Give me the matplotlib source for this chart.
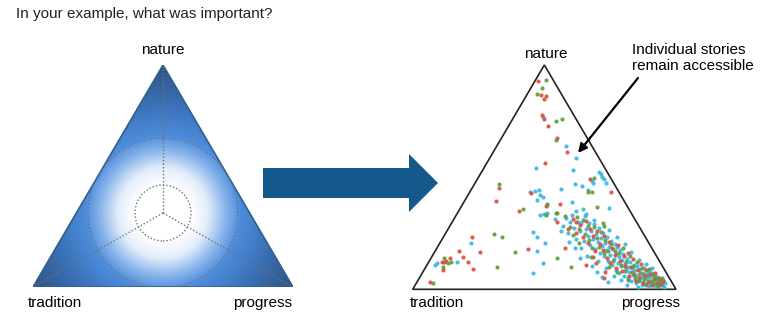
import numpy as np
import matplotlib
matplotlib.use('Agg')
import matplotlib.pyplot as plt
from matplotlib.patches import Polygon, Ellipse, FancyArrow
from matplotlib.colors import LinearSegmentedColormap

plt.rcParams['font.family'] = ['Liberation Sans', 'DejaVu Sans']

# triangle corner labels
corners = ['nature', 'tradition', 'progress']
title = 'In your example, what was important?'
note = 'Individual stories\nremain accessible'

# answers, position inside the triangle (x along base 0-100, y toward "nature" 0-100)
red_x = [47.7, 48.7, 50.5, 49.9, 49.2, 49.9, 51.5, 54.7, 58.5, 50.3, 67.3, 75.2, 32.7, 31.6,
         50.5, 55.9, 40.5, 54.9, 43.9, 22.4, 25.6, 21.1, 19.2, 17.7, 22.8, 11.0, 12.0, 12.5,
         14.2, 11.4, 6.6, 44.8, 62.0, 57.8, 65.7, 72.7, 68.4,
         58.8, 60.9, 62.1, 63.6, 64.5, 65.9, 66.7, 67.3, 68.6, 69.4, 70.1, 71.2, 72.1, 72.8,
         73.7, 74.4, 75.1, 75.8, 76.7, 77.3, 78.1, 78.7, 79.5, 80.1, 80.8, 81.7, 82.1, 82.9,
         83.5, 84.1, 84.7, 85.5, 86.1, 86.8, 87.5, 88.0, 88.7, 89.5, 90.1, 90.8, 91.5, 92.2,
         92.8, 93.5, 94.4, 95.1, 73.2, 69.8]
red_y = [93.0, 86.6, 86.2, 84.8, 77.6, 75.8, 72.8, 67.6, 61.4, 56.5, 49.2, 43.2, 45.3, 39.5,
         37.1, 38.0, 35.1, 30.2, 18.0, 23.5, 16.8, 12.0, 14.6, 17.2, 9.1, 12.0, 12.0, 12.8,
         13.8, 8.6, 3.4, 43.1, 30.0, 18.4, 10.8, 4.9, 14.6,
         27.0, 31.3, 25.0, 28.7, 23.4, 30.4, 20.6, 26.8, 23.7, 16.9, 25.9, 20.2, 17.3, 23.6,
         14.1, 21.2, 11.8, 18.6, 15.2, 9.7, 19.9, 12.8, 8.2, 14.7, 10.6, 16.4, 5.8, 9.9,
         13.7, 6.9, 3.5, 8.8, 5.0, 11.2, 2.6, 6.4, 8.6, 3.4, 6.7, 1.9, 4.5, 7.3,
         2.9, 5.1, 2.3, 3.7, 7.6, 11.8]

green_x = [50.5, 49.0, 47.3, 54.3, 56.7, 54.3, 69.0, 66.7, 68.2, 32.9, 42.0, 50.9, 54.3, 31.0,
           33.8, 38.9, 31.9, 12.0, 14.6, 11.6, 7.8, 13.5, 54.7, 60.0, 70.0, 72.3, 50.6, 54.8,
           58.0, 59.6, 60.7, 62.4, 63.1, 64.7, 65.4, 66.6, 67.1, 68.1, 68.9, 69.9, 70.9, 71.7,
           72.5, 73.2, 74.0, 74.6, 75.4, 76.1, 76.9, 77.7, 78.4, 79.0, 79.8, 80.5, 81.1, 81.9,
           82.5, 83.2, 83.8, 84.5, 85.1, 85.8, 86.4, 87.1, 87.8, 88.5, 89.1, 89.8, 90.5, 91.2,
           91.8, 92.5, 93.2, 93.9, 94.7, 67.8, 63.0, 72.6]
green_y = [93.3, 89.6, 86.9, 75.0, 76.1, 66.6, 49.8, 43.5, 43.2, 47.0, 35.7, 38.0, 34.2, 24.7,
           23.5, 16.8, 9.8, 14.1, 12.3, 9.8, 3.0, 11.6, 13.8, 9.8, 36.7, 29.6, 33.1, 34.0,
           32.7, 27.9, 24.1, 32.1, 27.1, 30.9, 24.7, 28.4, 22.0, 18.4, 27.9, 22.7, 18.7, 25.5,
           16.0, 21.9, 16.9, 10.0, 20.3, 12.6, 17.0, 7.9, 16.2, 11.0, 18.2, 8.3, 12.3, 4.3,
           14.9, 7.8, 10.6, 5.6, 12.3, 4.1, 7.3, 9.4, 4.8, 1.8, 5.9, 9.1, 3.9, 6.4,
           2.6, 4.9, 1.5, 3.7, 5.0, 14.2, 20.5, 28.2]

cyan_x = [49.6, 58.1, 61.9, 46.7, 61.0, 70.9, 71.5, 72.0, 72.7, 73.4, 68.2, 64.4, 61.6, 66.5,
          44.6, 46.3, 48.0, 48.5, 49.4, 47.3, 50.9, 60.4, 48.4, 49.9, 50.9, 45.8, 47.3, 50.3,
          47.1, 49.6, 45.8, 22.0, 16.7, 8.5, 9.4, 68.6, 56.3, 74.6, 54.1, 74.1,
          57.2, 58.3, 59.1, 59.8, 60.4, 61.3, 61.9, 62.7, 62.2, 63.4, 64.1, 64.9, 65.3, 65.8,
          63.8, 66.4, 66.9, 67.5, 67.9, 68.4, 68.8, 66.2, 69.3, 69.7, 70.2, 70.6, 71.1, 71.5,
          71.9, 70.4, 72.3, 72.6, 73.0, 73.4, 73.9, 74.2, 74.7, 74.9, 73.6, 75.3, 75.6, 76.0,
          76.3, 76.8, 77.1, 77.4, 77.9, 77.6, 76.5, 78.2, 78.5, 78.9, 79.3, 79.6, 80.0, 80.3,
          80.7, 80.9, 79.1, 81.3, 81.6, 81.9, 82.3, 82.7, 83.0, 83.3, 83.7, 83.9, 84.3, 84.6,
          84.9, 85.3, 85.6, 85.9, 86.3, 86.6, 86.9, 87.3, 87.6, 87.9, 88.3, 88.6, 88.9, 89.3,
          89.6, 89.9, 90.3, 90.6, 90.9, 91.3, 91.6, 91.9, 92.3, 92.6, 92.9, 93.3, 93.6, 94.0,
          94.4, 94.8, 95.2, 95.6, 96.0,
          56.5, 59.5, 61.5, 63.5, 64.5, 68.0, 70.0, 72.0, 74.5, 77.5, 80.5, 83.0, 86.0, 88.5,
          91.0, 66.0, 81.5, 85.5, 69.0]
cyan_y = [76.7, 63.7, 58.7, 53.9, 53.2, 52.2, 51.3, 50.2, 49.2, 47.5, 48.4, 46.1, 47.0, 44.3,
          43.2, 44.0, 44.3, 42.2, 41.0, 39.8, 37.4, 39.1, 33.1, 33.4, 34.2, 25.7, 23.2, 20.5,
          17.2, 11.6, 7.1, 20.5, 12.3, 10.7, 11.6, 47.2, 44.7, 36.3, 31.4, 3.3,
          28.4, 31.6, 25.2, 29.9, 33.1, 27.3, 22.6, 30.2, 35.0, 25.8, 29.4, 21.7, 32.6, 26.9,
          18.3, 23.9, 29.7, 19.8, 26.1, 22.4, 31.0, 14.9, 18.1, 24.8, 21.3, 27.5, 16.2, 22.9,
          19.4, 12.8, 25.2, 14.7, 20.8, 17.6, 23.1, 12.4, 19.0, 15.3, 9.6, 21.6, 10.9, 17.9,
          13.7, 20.1, 8.8, 15.9, 11.6, 18.7, 5.9, 14.2, 7.4, 17.3, 10.2, 12.9, 15.8, 6.1,
          11.4, 8.9, 4.0, 13.6, 5.2, 10.1, 7.6, 12.2, 3.9, 9.3, 6.4, 11.0, 4.6, 8.4,
          2.9, 10.3, 6.2, 3.7, 8.9, 5.5, 1.9, 7.3, 3.3, 9.6, 5.1, 2.4, 6.9, 4.2,
          8.0, 1.6, 5.6, 3.0, 7.2, 2.1, 4.7, 6.0, 1.4, 3.6, 5.4, 2.5, 4.1, 1.7,
          3.2, 2.0, 4.3, 1.2, 2.6,
          26.0, 21.0, 18.5, 14.0, 36.0, 10.5, 7.5, 5.5, 26.5, 23.5, 20.0, 16.5, 13.0, 11.5,
          9.5, 33.5, 2.0, 1.0, 29.0]

W, H = 768, 320
fig = plt.figure(figsize=(W / 100, H / 100), dpi=100)


def px(x, y):
    return x / W, 1 - y / H


tri = np.array([[0, 0], [100, 0], [50, 100]])

# ---- big arrow in the middle
bg = fig.add_axes((0, 0, 1, 1))
bg.set_xlim(0, W)
bg.set_ylim(H, 0)
bg.axis('off')
bg.add_patch(FancyArrow(263, 183, 175, 0, width=30, head_width=58, head_length=29,
                        length_includes_head=True, color='#13598c', lw=0))

# ---- left triangle: schematic with gradient
ax1 = fig.add_axes((33 / W, 1 - 287 / H, 260 / W, 222 / H))
ax1.set_xlim(0, 100)
ax1.set_ylim(0, 100)
ax1.axis('off')
sx, sy = 2.6, 2.22          # pixels per data unit
cx, cy = 50, 100 / 3
gx, gy = np.meshgrid(np.linspace(0, 100, 400), np.linspace(0, 100, 400))
dist = np.hypot((gx - cx) * sx, (gy - cy) * sy)
cmap = LinearSegmentedColormap.from_list('blu', [
    (0.0, '#ffffff'), (0.19, '#ffffff'), (0.3, '#e2edfa'), (0.42, '#88b4eb'),
    (0.52, '#4d8cdb'), (0.72, '#3b72b8'), (1.0, '#2f5282')])
im = ax1.imshow(dist / 150, cmap=cmap, vmin=0, vmax=1, extent=(0, 100, 0, 100),
                origin='lower', aspect='auto', interpolation='bilinear')
tp = Polygon(tri, closed=True, fc='none', ec='#2f5f90', lw=1.2, transform=ax1.transData)
ax1.add_patch(tp)
im.set_clip_path(tp)
dot = (0, (1, 1.5))
for r in (28, 75):
    c = Ellipse((cx, cy), 2 * r / sx, 2 * r / sy, fc='none', ec='#6c727c', ls=dot, lw=1)
    ax1.add_patch(c)
    c.set_clip_path(tp)
for vx, vy in tri:
    ax1.plot([cx, vx], [cy, vy], color='#6c727c', ls=dot, lw=1)

# ---- right triangle: the answers
ax2 = fig.add_axes((412.7 / W, 1 - 289.3 / H, 263.3 / W, 224.3 / H))
ax2.set_xlim(0, 100)
ax2.set_ylim(0, 100)
ax2.axis('off')
ax2.add_patch(Polygon(tri, closed=True, fc='none', ec='#222222', lw=1.2, clip_on=False))
ax2.scatter(cyan_x, cyan_y, s=9, c='#3ab4e8', lw=0, alpha=0.9, clip_on=False)
ax2.scatter(red_x, red_y, s=9, c='#e2483c', lw=0, alpha=0.9, clip_on=False)
ax2.scatter(green_x, green_y, s=9, c='#5c9e34', lw=0, alpha=0.9, clip_on=False)
ax2.annotate('', xy=(62.8, 60.8), xycoords='data', xytext=(638, H - 78),
             textcoords='figure pixels',
             arrowprops=dict(arrowstyle='-|>', color='black', lw=1.6,
                             mutation_scale=13, shrinkA=0, shrinkB=0))

# ---- texts
fs = 11
fig.text(*px(16, 14), title, fontsize=fs, ha='left', va='center', color='#222222')
fig.text(*px(163, 50), corners[0], fontsize=fs, ha='center', va='center')
fig.text(*px(55, 303), corners[1], fontsize=fs, ha='center', va='center')
fig.text(*px(263, 303), corners[2], fontsize=fs, ha='center', va='center')
fig.text(*px(546, 54), corners[0], fontsize=fs, ha='center', va='center')
fig.text(*px(437, 303), corners[1], fontsize=fs, ha='center', va='center')
fig.text(*px(651, 303), corners[2], fontsize=fs, ha='center', va='center')
fig.text(*px(632, 58), note, fontsize=fs, ha='left', va='center', linespacing=1.1)

fig.savefig('out.png', dpi=100)
